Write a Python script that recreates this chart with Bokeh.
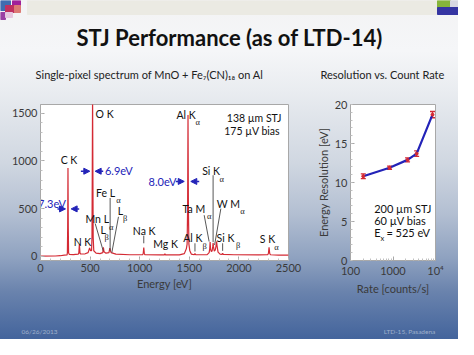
from bokeh.plotting import figure
from bokeh.layouts import column, row
from bokeh.models import (ColumnDataSource, Range1d, Arrow, NormalHead, Whisker,
                          TeeHead, SingleIntervalTicker, FixedTicker)
from bokeh.core.properties import value
from bokeh.embed import file_html
from bokeh.resources import INLINE

FONT = "Lato"
GREEK = "Liberation Serif"

# ---------------- data: spectrum ----------------
energy = [0, 150, 200, 240, 268, 271, 274, 277, 280, 283, 290, 330, 380, 386, 392, 398, 405,
          450, 480, 495, 505, 515, 519, 522, 525, 528, 531, 537, 560, 600, 628, 634, 640, 660,
          690, 699, 705, 712, 760, 900, 1030, 1036, 1041, 1046, 1052, 1200, 1248, 1254, 1260,
          1400, 1450, 1470, 1478, 1483, 1487, 1491, 1496, 1505, 1520, 1550, 1557, 1564, 1680,
          1700, 1706, 1710, 1714, 1722, 1730, 1736, 1740, 1744, 1752, 1762, 1770, 1775, 1780,
          1790, 1810, 1830, 1836, 1842, 1950, 2200, 2290, 2298, 2304, 2310, 2318, 2400, 2500]
counts = [4, 5, 8, 14, 16, 40, 300, 925, 300, 40, 22, 20, 24, 35, 128, 35, 26,
          28, 40, 90, 60, 60, 200, 900, 1700, 900, 200, 60, 35, 30, 40, 95, 50, 35,
          40, 88, 60, 40, 25, 18, 18, 35, 93, 35, 18, 16, 17, 28, 17,
          17, 30, 80, 130, 500, 1480, 500, 130, 60, 25, 18, 32, 18, 20,
          40, 80, 150, 80, 50, 60, 100, 140, 100, 55, 70, 110, 155, 110,
          45, 25, 22, 35, 22, 18, 16, 18, 35, 96, 35, 18, 15, 14]

# peak labels (centered)
lab_text = ["C K", "N K", "Mn L", "L", "Fe L", "L", "Na K", "Mg K", "Al K", "Al K",
            "Si K", "Ta M", "W M", "Si K", "S K"]
lab_x = [287, 423, 572, 632, 655, 806, 1045, 1260, 1535, 1467, 1720, 1546, 1895, 1865, 2288]
lab_y = [1006, 150, 389, 276, 664, 477, 270, 130, 197, 1478, 892, 501, 545, 197, 181]
# left-aligned labels
left_text = ["O K", "138 µm STJ", "175 µV bias"]
left_x = [555, 1878, 1852]
left_y = [1494, 1452, 1314]
# greek subscripts
greek_text = ["β", "α", "α", "β", "β", "α", "α", "α", "α", "β", "α"]
greek_x = [668, 786, 712, 853, 1656, 1586, 1828, 1700, 2036, 1993, 2379]
greek_y = [200, 591, 311, 405, 114, 1408, 806, 425, 474, 121, 104]
# leader lines
lead_x0 = [702, 786, 551, 1740, 1650, 1818, 1041, 1557, 1836]
lead_y0 = [612, 415, 345, 850, 432, 501, 218, 138, 138]
lead_x1 = [702, 719, 632, 1740, 1700, 1755, 1041, 1557, 1836]
lead_y1 = [60, 40, 60, 150, 156, 120, 138, 52, 59]
# resolution markers
res_text = ["7.3eV", "6.9eV", "8.0eV"]
res_x = [116, 790, 1230]
res_y = [550, 902, 788]
arr_x0 = [171, 390, 407, 632, 1364, 1600]
arr_x1 = [252, 309, 497, 551, 1449, 1515]
arr_y = [498, 498, 892, 892, 785, 785]

# ---------------- data: resolution vs rate ----------------
rate = [200, 830, 2200, 3600, 8500]
resolution = [10.8, 11.9, 12.9, 13.7, 18.7]
res_err = [0.3, 0.2, 0.25, 0.35, 0.4]
stj_text = ["200 µm STJ", "60 µV bias"]
stj_y = [6.7, 5.15]

RED = "#d42a34"
BLUE = "#2323b8"
TICK = "#3a3a3a"

# ---------------- top strip ----------------
top = figure(width=458, height=92, x_range=Range1d(0, 458), y_range=Range1d(92, 0),
             x_axis_type=None, y_axis_type=None, output_backend="svg",
             toolbar_location=None, min_border=0)
top.grid.visible = False
top.outline_line_color = None
top.background_fill_alpha = 0
top.border_fill_alpha = 0
top.quad(left=[27], right=[437], top=[0], bottom=[14], color="#ebeae3")
top.quad(left=[0, 12, 5, 14, 0, 5], right=[10, 20, 14, 20, 5, 12],
         top=[0, 0, 5, 5, 12, 12], bottom=[10, 5, 12, 12, 19, 17],
         color=["#3f6cb0", "#a0209a", "#c03060", "#dc7a74", "#9a40a4", "#e6c8e0"])
top.quad(left=[437, 450, 437], right=[450, 458, 458], top=[0, 0, 7], bottom=[7, 7, 14],
         color=["#86b43a", "#d8d8e2", "#3535a2"])
top.text(x=[229], y=[37], text=["STJ Performance (as of LTD-14)"], text_align="center",
         text_baseline="middle", text_font=value(FONT), text_font_style="bold",
         text_font_size="22px", text_color="#111111")
top.text(x=[149, 382], y=[74, 74],
         text=["Single-pixel spectrum of MnO + Fe₇(CN)₁₈ on Al", "Resolution vs. Count Rate"],
         text_align="center", text_baseline="middle", text_font=value(FONT),
         text_font_size="11px", text_color="#222222")

# ---------------- spectrum ----------------
p1 = figure(width=304, height=232, x_range=Range1d(0, 2500), y_range=Range1d(-42, 1590),
            output_backend="svg", toolbar_location=None,
            min_border_left=40, min_border_right=16, min_border_top=12, min_border_bottom=63)
p1.background_fill_color = "white"
p1.border_fill_alpha = 0
p1.outline_line_color = "#a8a8a8"
p1.grid.visible = False
p1.line(energy, counts, line_color=RED, line_width=1.2)
p1.segment(x0=lead_x0, y0=lead_y0, x1=lead_x1, y1=lead_y1, line_color="#444444", line_width=0.9)
p1.text(x=lab_x, y=lab_y, text=lab_text, text_align="center", text_baseline="middle",
        text_font=value(FONT), text_font_size="10.5px", text_color="#111111")
p1.text(x=left_x, y=left_y, text=left_text, text_align="left", text_baseline="middle",
        text_font=value(FONT), text_font_size="10.5px", text_color="#111111")
p1.text(x=greek_x, y=greek_y, text=greek_text, text_align="center", text_baseline="middle",
        text_font=value(GREEK), text_font_size="8.5px", text_color="#222222")
p1.text(x=res_x, y=res_y, text=res_text, text_align="center", text_baseline="middle",
        text_font=value(FONT), text_font_size="11px", text_color=BLUE)
arr_src = ColumnDataSource(dict(x0=arr_x0, x1=arr_x1, y=arr_y))
p1.add_layout(Arrow(source=arr_src, x_start="x0", y_start="y", x_end="x1", y_end="y",
                    line_color=BLUE, line_width=1.5,
                    end=NormalHead(size=6, fill_color=BLUE, line_color=BLUE)))
p1.xaxis.ticker = SingleIntervalTicker(interval=500, num_minor_ticks=5)
p1.yaxis.ticker = SingleIntervalTicker(interval=500, num_minor_ticks=5)
p1.xaxis.axis_label = "Energy [eV]"
for ax in p1.axis:
    ax.axis_line_color = "#a8a8a8"
    ax.major_tick_in = 4
    ax.major_tick_out = 0
    ax.minor_tick_in = 2
    ax.minor_tick_out = 0
    ax.major_tick_line_color = "#a8a8a8"
    ax.minor_tick_line_color = "#c0c0c0"
    ax.major_label_text_font = FONT
    ax.major_label_text_font_size = "11px"
    ax.major_label_text_color = TICK
    ax.major_label_standoff = 3
    ax.axis_label_text_font = FONT
    ax.axis_label_text_font_size = "11px"
    ax.axis_label_text_font_style = "normal"
    ax.axis_label_text_color = TICK
    ax.axis_label_standoff = 2

# ---------------- resolution vs rate ----------------
p2 = figure(width=154, height=232, x_axis_type="log", x_range=Range1d(100, 10000),
            y_range=Range1d(0, 20), output_backend="svg", toolbar_location=None,
            min_border_left=46, min_border_right=23, min_border_top=10, min_border_bottom=64)
p2.background_fill_color = "white"
p2.border_fill_alpha = 0
p2.outline_line_color = "#a8a8a8"
p2.grid.visible = False
src2 = ColumnDataSource(dict(rate=rate, res=resolution,
                             upper=[r + e for r, e in zip(resolution, res_err)],
                             lower=[r - e for r, e in zip(resolution, res_err)]))
p2.line("rate", "res", source=src2, line_color=BLUE, line_width=2.2)
p2.add_layout(Whisker(source=src2, base="rate", upper="upper", lower="lower",
                      line_color=RED, line_width=1.3,
                      upper_head=TeeHead(size=5, line_color=RED, line_width=1.3),
                      lower_head=TeeHead(size=5, line_color=RED, line_width=1.3)))
p2.scatter("rate", "res", source=src2, size=3, color=RED)
p2.text(x=[360, 360], y=stj_y, text=stj_text, text_align="left", text_baseline="middle",
        text_font=value(FONT), text_font_size="11px", text_color="#111111")
p2.text(x=[360], y=[3.6], text=["E"], text_align="left", text_baseline="middle",
        text_font=value(FONT), text_font_size="11px", text_color="#111111")
p2.text(x=[505], y=[2.8], text=["x"], text_align="left", text_baseline="middle",
        text_font=value(FONT), text_font_size="7.5px", text_color="#111111")
p2.text(x=[700], y=[3.6], text=["= 525 eV"], text_align="left", text_baseline="middle",
        text_font=value(FONT), text_font_size="11px", text_color="#111111")
p2.xaxis.ticker = FixedTicker(ticks=[100, 1000, 10000],
                              minor_ticks=[200, 300, 400, 500, 600, 700, 800, 900,
                                           2000, 3000, 4000, 5000, 6000, 7000, 8000, 9000])
p2.xaxis.major_label_overrides = {100: "100", 1000: "1000", 10000: "10⁴"}
p2.yaxis.ticker = SingleIntervalTicker(interval=5, num_minor_ticks=5)
p2.xaxis.axis_label = "Rate [counts/s]"
p2.yaxis.axis_label = "Energy Resolution [eV]"
for ax in p2.axis:
    ax.axis_line_color = "#a8a8a8"
    ax.major_tick_in = 4
    ax.major_tick_out = 0
    ax.minor_tick_in = 2
    ax.minor_tick_out = 0
    ax.major_tick_line_color = "#a8a8a8"
    ax.minor_tick_line_color = "#c0c0c0"
    ax.major_label_text_font = FONT
    ax.major_label_text_font_size = "11px"
    ax.major_label_text_color = TICK
    ax.major_label_standoff = 3
    ax.axis_label_text_font = FONT
    ax.axis_label_text_font_size = "11px"
    ax.axis_label_text_font_style = "normal"
    ax.axis_label_text_color = TICK
    ax.axis_label_standoff = 2

# ---------------- footer ----------------
foot = figure(width=458, height=15, x_range=Range1d(0, 458), y_range=Range1d(15, 0),
              x_axis_type=None, y_axis_type=None, output_backend="svg",
              toolbar_location=None, min_border=0)
foot.grid.visible = False
foot.outline_line_color = None
foot.background_fill_alpha = 0
foot.border_fill_alpha = 0
foot.text(x=[39, 409], y=[7, 7], text=["06/26/2013", "LTD-15, Pasadena"],
          text_align="center", text_baseline="middle", text_font=value(FONT),
          text_font_size="6.5px", text_color="#9fb0cc")

layout = column(top, row(p1, p2), foot,
                styles={"background": "linear-gradient(180deg, #f3f3f4 0%, #f5f6f8 15%, "
                                      "#e9ecf0 27%, #d0d7e1 48%, #b3bfd2 63%, #8fa2c0 76%, "
                                      "#6a83ad 86%, #43649c 100%)"})

open("out.html", "w").write(file_html(layout, INLINE))
